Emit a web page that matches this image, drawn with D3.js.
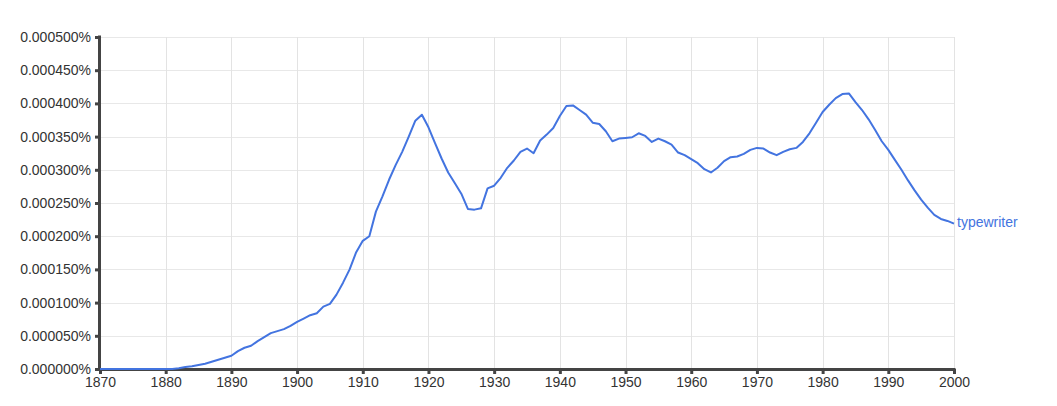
<!DOCTYPE html>
<html lang="en">
<head>
    <meta charset="UTF-8">
    <script type="text/javascript" src="https://d3js.org/d3.v7.min.js"></script>
    <title>typewriter</title>
    <style>
        body { margin: 0; background: #fff; }
        svg text { font-family: "Liberation Sans", Arial, Helvetica, sans-serif; }
    </style>
</head>
<body>
    <script type="text/javascript">
        // yearly frequency of "typewriter", in percent
        const years = d3.range(1870, 2001);
        const values = [
            // 1870-1879
            0, 0, 0, 0, 0, 0, 0, 0, 0, 0,
            // 1880-1889
            0, 0, 0.000001, 0.000003, 0.000004, 0.000006, 0.000008, 0.000011, 0.000014, 0.000017,
            // 1890-1899
            0.000020, 0.000027, 0.000032, 0.000035, 0.000042, 0.000048, 0.000054, 0.000057, 0.000060, 0.000065,
            // 1900-1909
            0.000071, 0.000076, 0.000081, 0.000084, 0.000094, 0.000098, 0.000112, 0.000130, 0.000150, 0.000176,
            // 1910-1919
            0.000193, 0.000200, 0.000237, 0.000260, 0.000285, 0.000307, 0.000327, 0.000350, 0.000374, 0.000383,
            // 1920-1929
            0.000364, 0.000340, 0.000317, 0.000296, 0.000280, 0.000264, 0.000241, 0.000240, 0.000242, 0.000272,
            // 1930-1939
            0.000276, 0.000288, 0.000303, 0.000314, 0.000327, 0.000332, 0.000325, 0.000344, 0.000353, 0.000363,
            // 1940-1949
            0.000381, 0.000396, 0.000397, 0.000390, 0.000383, 0.000371, 0.000369, 0.000358, 0.000343, 0.000347,
            // 1950-1959
            0.000348, 0.000349, 0.000355, 0.000351, 0.000342, 0.000347, 0.000343, 0.000338, 0.000326, 0.000322,
            // 1960-1969
            0.000316, 0.000310, 0.000301, 0.000296, 0.000303, 0.000313, 0.000319, 0.000320, 0.000324, 0.000330,
            // 1970-1979
            0.000333, 0.000332, 0.000326, 0.000322, 0.000327, 0.000331, 0.000333, 0.000342, 0.000355, 0.000371,
            // 1980-1989
            0.000387, 0.000398, 0.000408, 0.000414, 0.000415, 0.000402, 0.000390, 0.000376, 0.000360, 0.000343,
            // 1990-2000
            0.000330, 0.000315, 0.000300, 0.000284, 0.000269, 0.000255, 0.000243, 0.000232, 0.000226, 0.000223, 0.000219
        ];
        const seriesName = 'typewriter';
        const xTicks = d3.range(1870, 2001, 10);
        const yTicks = d3.range(0, 0.000501, 0.00005);

        const width = 1057;
        const height = 406;
        const margin = { top: 37, right: 103, bottom: 37, left: 100 };

        const data = years.map((y, i) => ({ year: y, value: values[i] }));

        const svg = d3.select('body')
            .append('svg')
            .attr('width', width)
            .attr('height', height);

        const x = d3.scaleLinear()
            .domain([1870, 2000])
            .range([margin.left, width - margin.right]);

        const y = d3.scaleLinear()
            .domain([0, 0.0005])
            .range([height - margin.bottom, margin.top]);

        // grid
        svg.append('g').selectAll('line.h')
            .data(yTicks)
            .enter()
            .append('line')
            .attr('x1', margin.left)
            .attr('x2', width - margin.right)
            .attr('y1', d => Math.round(y(d)) + 0.5)
            .attr('y2', d => Math.round(y(d)) + 0.5)
            .attr('stroke', '#e8e8e8');

        svg.append('g').selectAll('line.v')
            .data(xTicks)
            .enter()
            .append('line')
            .attr('x1', d => Math.round(x(d)) + 0.5)
            .attr('x2', d => Math.round(x(d)) + 0.5)
            .attr('y1', margin.top)
            .attr('y2', height - margin.bottom)
            .attr('stroke', '#e3e3e3');

        // axes
        const xAxis = d3.axisBottom(x)
            .tickValues(xTicks)
            .tickFormat(d3.format('d'))
            .tickSize(5)
            .tickPadding(3);

        const yAxis = d3.axisLeft(y)
            .tickValues(yTicks)
            .tickFormat(d => d3.format('.6f')(d) + '%')
            .tickSize(5)
            .tickPadding(4);

        const gx = svg.append('g')
            .attr('transform', `translate(0, ${height - margin.bottom})`)
            .call(xAxis);

        const gy = svg.append('g')
            .attr('transform', `translate(${margin.left}, 0)`)
            .call(yAxis);

        [gx, gy].forEach(g => {
            g.select('.domain').attr('stroke', '#444').attr('stroke-width', 3);
            g.selectAll('.tick line').attr('stroke', '#444').attr('stroke-width', 3);
            g.selectAll('.tick text')
                .attr('fill', '#333')
                .style('font-size', '14px');
        });
        gx.select('.domain').attr('d', `M${margin.left - 1.5},0.5H${width - margin.right + 1.5}`);
        gy.select('.domain').attr('d', `M-0.5,${margin.top - 1.5}V${height - margin.bottom + 1.5}`);

        // line
        const line = d3.line()
            .x(d => x(d.year))
            .y(d => y(d.value));

        svg.append('path')
            .datum(data)
            .attr('fill', 'none')
            .attr('stroke', '#4374e0')
            .attr('stroke-width', 2)
            .attr('stroke-linejoin', 'round')
            .attr('d', line);

        const last = data[data.length - 1];
        svg.append('text')
            .attr('x', x(last.year) + 3)
            .attr('y', y(last.value))
            .attr('dy', '0.25em')
            .attr('fill', '#4374e0')
            .style('font-size', '14px')
            .text(seriesName);
    </script>
</body>
</html>
